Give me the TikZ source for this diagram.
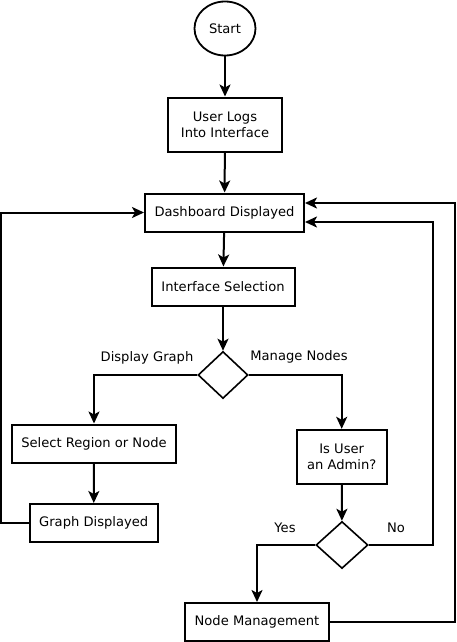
\documentclass[tikz,border=0pt]{standalone}
\usepackage{fontspec}
\setmainfont{DejaVu Sans}
\usetikzlibrary{shapes.geometric,arrows.meta}
\begin{document}
\begin{tikzpicture}[x=1pt,y=-1pt,
  every node/.style={font=\fontsize{13.1}{16}\selectfont},
  box/.style={draw,line width=2pt,rectangle,inner sep=0pt,align=center},
  dec/.style={draw,line width=1.6pt,diamond,inner sep=0pt,minimum width=50pt,minimum height=47pt},
  lbl/.style={inner sep=0pt},
  arr/.style={line width=2pt,-{Stealth[length=12pt,width=11pt,inset=3pt]}}]
\useasboundingbox (0,0) rectangle (457,642);
\node[draw,line width=1.8pt,ellipse,inner sep=0pt,minimum width=61pt,minimum height=54pt] (start) at (225,28.5) {Start};
\node[box,minimum width=114pt,minimum height=54pt] (login) at (225,124.5) {User Logs\\Into Interface};
\node[box,minimum width=159pt,minimum height=38pt] (dash) at (224.5,212.5) {Dashboard Displayed};
\node[box,minimum width=143pt,minimum height=38pt] (sel) at (223,286.5) {Interface Selection};
\node[dec] (d1) at (223,375) {};
\node[box,minimum width=164pt,minimum height=38pt] (reg) at (94,443.5) {Select Region or Node};
\node[box,minimum width=128pt,minimum height=38pt] (graph) at (93.7,523) {Graph Displayed};
\node[box,minimum width=90pt,minimum height=54pt] (admin) at (341.7,456.8) {Is User\\an Admin?};
\node[dec,minimum width=52pt] (d2) at (342,545) {};
\node[box,minimum width=144pt,minimum height=38pt] (nm) at (257,622) {Node Management};
\node[lbl] (ldg) at (147,357.5) {Display Graph};
\node[lbl] (lmn) at (299,356.5) {Manage Nodes};
\node[lbl] (lyes) at (285,527.5) {Yes};
\node[lbl] (lno) at (396,527.5) {No};
\coordinate (lc) at (1,0);
\coordinate (nox) at (433,0);
\coordinate (nmx) at (455,0);
\draw[arr] (start) -- (login);
\draw[arr] (login) -- (dash);
\draw[arr] (dash) -- (sel);
\draw[arr] (sel) -- (d1);
\draw[arr] (d1.west) -| (reg.north);
\draw[arr] (d1.east) -| (admin.north);
\draw[arr] (reg) -- (graph);
\draw[arr] (graph.west) -- (graph.west -| lc) |- (dash.west);
\draw[arr] (admin) -- (d2);
\draw[arr] (d2.west) -| (nm.north);
\draw[arr] (d2.east) -- (d2.east -| nox) |- ([yshift=-9.5pt]dash.east);
\draw[arr] (nm.east) -- (nm.east -| nmx) |- ([yshift=9.5pt]dash.east);
\end{tikzpicture}
\end{document}
